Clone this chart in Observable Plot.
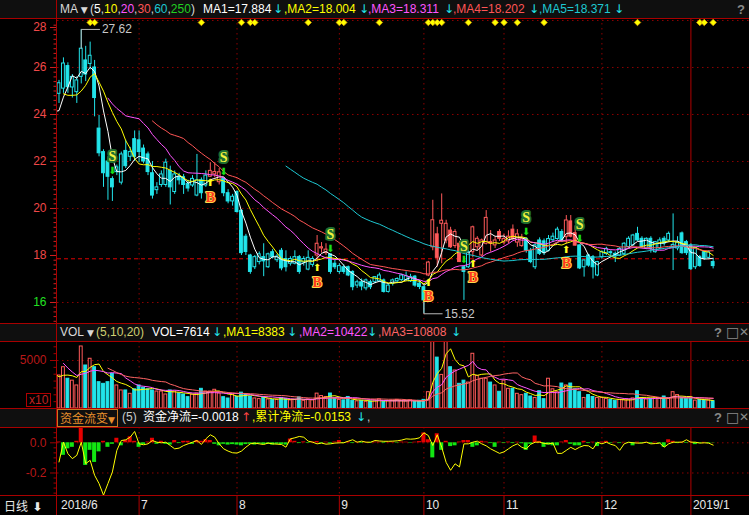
<!DOCTYPE html>
<html><head><meta charset="utf-8">
<script src="https://cdn.jsdelivr.net/npm/d3@7"></script>
<script src="https://cdn.jsdelivr.net/npm/@observablehq/plot@0.6"></script>
<style>
body{margin:0;background:#000;}
#root{position:relative;width:749px;height:515px;overflow:hidden;background:#000;font-family:"Liberation Sans",Arial,"Noto Sans CJK SC",sans-serif;font-size:12px;color:#d8d8d8;}
.t{position:absolute;white-space:nowrap;}
.band{position:absolute;left:0;width:749px;background:#0f0f0f;}
.hl{position:absolute;left:0;width:749px;height:1px;background:#a80000;}
svg{display:block;}
</style></head>
<body><div id="root"></div>
<script>
// ---------- data ----------
const monthLabels = ["2018/6","7","8","9","10","11","12","2019/1"];
const monthStart  = [0,18,40,63,82,100,122,142];

// hidden bars before the first visible one (only feed the moving averages)
const prefixClose  = [25.8,25.6,25.3,25.1,23.3,23.0,23.2,26.0];
const prefixVolume = [80000,70000,60000,52000,35000,30000,32600,33000];

const open = [
24.88,25.10,26.06,25.15,24.95,25.60,26.30,26.15,26.00,23.40,22.40,22.00,21.25,21.55,21.10,22.45,22.20,22.95,
22.90,22.55,22.30,21.50,20.78,21.00,21.00,21.60,20.70,21.35,21.33,21.05,20.98,20.55,21.20,20.98,21.35,21.45,21.12,21.26,20.65,20.30,
20.70,19.90,18.80,18.00,17.50,17.72,17.93,17.50,18.14,17.80,18.20,17.85,17.65,17.65,17.93,17.70,17.40,17.60,18.00,18.30,18.10,18.05,17.65,
17.30,17.50,17.50,17.30,16.72,16.86,16.60,16.86,16.86,16.90,16.94,16.45,16.80,16.90,16.95,16.95,16.90,17.10,16.80,
16.65,17.15,18.35,18.90,19.35,18.64,19.06,18.40,18.50,17.50,17.50,18.14,18.35,18.00,18.50,18.57,18.43,19.00,
18.55,18.60,19.10,18.55,18.40,18.71,18.20,17.50,18.64,18.60,18.20,18.65,18.70,19.00,18.78,19.45,18.95,18.43,17.50,18.00,17.93,17.15,
17.93,18.07,18.14,18.07,18.00,18.07,18.36,18.43,18.92,18.71,18.30,18.71,18.14,18.30,18.71,18.64,18.36,18.30,18.94,18.57,
18.43,17.50,17.93,18.14,17.90,17.72];
const high = [
25.45,26.41,26.20,25.70,25.60,27.62,26.90,27.08,26.30,23.96,22.50,22.20,21.35,21.85,22.40,22.90,22.60,23.30,
23.30,22.70,22.40,22.00,21.10,21.60,22.10,21.80,21.60,21.50,21.45,21.20,21.40,22.30,21.30,21.60,21.95,21.95,21.70,21.30,20.80,20.60,
20.75,19.95,18.90,18.05,18.00,18.15,18.50,18.10,18.25,18.05,18.30,18.20,17.95,18.20,18.00,17.95,18.20,17.95,18.85,18.55,18.50,18.05,17.80,
17.65,17.60,17.55,17.35,16.95,17.00,17.00,16.95,17.10,17.25,17.00,16.80,17.00,17.05,17.20,17.30,17.20,17.15,16.90,
16.70,17.75,20.35,19.20,20.62,19.50,19.20,19.10,18.60,17.55,18.20,19.25,18.80,18.70,19.91,19.06,18.80,19.10,
18.90,19.05,19.30,19.10,18.90,18.75,18.30,18.50,18.75,18.70,18.85,18.95,19.20,19.10,19.70,19.70,19.25,18.45,17.80,18.05,18.00,17.75,
18.20,18.35,18.20,18.15,18.35,18.55,18.80,18.90,19.20,18.80,18.75,18.80,18.60,18.75,18.80,19.00,19.77,18.80,19.00,18.64,
18.50,18.35,18.00,18.20,18.20,17.86];
const low = [
24.47,24.90,24.90,24.70,24.47,25.30,25.40,25.90,23.90,22.20,20.90,20.35,20.30,21.40,21.00,21.70,22.00,22.00,
21.95,21.90,21.40,20.40,20.60,20.90,20.90,20.15,20.60,21.00,20.60,20.70,20.90,20.50,20.40,20.90,21.33,21.30,21.00,20.50,20.20,20.10,
19.80,18.00,18.00,17.20,17.40,17.60,17.10,17.45,17.85,17.70,17.35,17.30,17.55,17.60,17.20,17.55,17.35,17.50,17.72,18.10,18.00,17.20,17.40,
17.20,17.20,17.10,16.50,16.60,16.50,16.50,16.55,16.80,16.85,16.40,16.40,16.70,16.80,16.90,16.90,16.85,16.65,16.55,
15.52,17.10,18.20,17.50,17.65,18.50,18.30,18.30,17.70,16.09,17.45,17.90,18.20,17.95,18.45,18.14,18.30,18.60,
18.45,18.50,18.65,18.35,18.35,18.10,17.65,17.40,18.00,18.00,18.15,18.55,18.65,18.55,18.49,18.75,18.40,17.40,17.08,17.50,17.00,17.10,
17.85,18.00,17.90,17.70,17.95,18.00,18.30,18.40,18.60,18.30,18.25,18.10,18.10,18.25,18.40,18.55,17.36,18.20,18.05,18.00,
17.36,17.40,17.50,17.80,17.85,17.43];
const close = [
25.33,26.17,25.16,25.60,25.45,26.80,25.70,26.50,24.70,22.35,21.50,21.35,20.90,21.75,22.30,21.80,22.40,22.20,
22.40,22.00,21.55,20.55,20.90,21.45,21.95,20.90,21.45,21.20,21.00,20.85,21.26,21.20,20.65,21.40,21.60,21.55,21.54,20.65,20.30,20.50,
19.85,18.10,18.15,17.30,17.93,18.05,17.75,18.05,17.93,17.95,17.45,17.50,17.85,17.93,17.30,17.85,17.90,17.85,18.50,18.35,18.25,17.30,17.50,
17.55,17.30,17.15,16.65,16.86,16.68,16.94,16.65,17.08,17.15,16.45,16.72,16.94,17.00,17.15,17.12,17.08,16.72,16.66,
16.09,17.70,19.50,17.90,19.48,19.35,18.35,19.00,17.72,17.30,18.14,19.20,18.71,18.64,19.60,18.50,18.64,18.71,
18.70,18.80,18.70,18.90,18.70,18.21,17.72,18.43,18.07,18.10,18.70,18.80,19.10,18.60,19.49,18.80,18.42,17.45,17.79,17.57,17.50,17.72,
18.14,18.28,18.10,17.96,18.28,18.50,18.71,18.85,18.64,18.36,18.71,18.28,18.57,18.64,18.50,18.92,18.45,18.55,18.10,18.10,
17.42,18.32,17.55,17.86,18.14,17.55];
const volume = [
34400,43000,31000,29000,24000,64600,44800,51800,43000,27400,25700,27400,36000,24000,18800,18800,15300,20000,
24000,21700,20000,18800,17700,17700,14600,18800,17700,15700,14600,11800,14600,15700,20500,17700,17700,19500,15700,11800,10400,14600,
12000,16500,15000,12500,10500,9800,12000,9500,8800,9000,11000,10000,8500,9000,11500,8000,9500,8500,15500,13000,12000,15600,10500,
9000,8500,12000,8000,7500,8000,7000,7500,8500,9500,7000,7500,8000,9000,8000,7500,8500,7000,8000,
9000,17000,95000,53000,35000,85000,43000,39600,25700,29000,27000,57000,34000,31000,31000,27000,24000,17400,
29000,20500,20500,15300,13900,15300,12500,11000,18000,9700,31000,20000,17000,26000,24000,26000,20000,17000,11000,14000,12000,11000,
11000,10000,9000,8000,9000,9000,9000,10500,18000,11000,9500,10000,10440,11000,12500,10000,17000,14000,11000,10305,
10000,8200,9100,8600,8401,7614];
const fundBar = [
0.005,-0.083,-0.04,-0.03,0.01,0.10,-0.15,-0.05,-0.13,-0.06,0.01,-0.03,-0.01,0.03,-0.02,0.015,0.04,0.01,
-0.03,-0.012,0.005,0.03,-0.01,0.01,-0.01,-0.015,0.015,-0.005,0.01,0.01,-0.01,0.015,0.01,0.02,0.015,-0.01,-0.02,-0.01,-0.015,-0.012,
-0.015,-0.02,-0.012,-0.01,-0.015,-0.008,-0.012,-0.01,-0.015,-0.01,-0.012,-0.015,0.025,0.01,-0.005,0.006,-0.004,0.005,0.008,-0.005,0.004,-0.006,0.005,
0.015,-0.004,0.006,-0.005,0.004,-0.004,0.003,-0.003,0.005,0.004,-0.004,0.003,0.004,-0.003,0.005,0.004,-0.003,0.004,0.008,
0.065,0.02,-0.1,0.06,-0.05,0.01,-0.025,-0.02,0.005,0.015,0.015,-0.03,-0.02,0.01,0.005,-0.005,-0.03,0.004,
-0.004,0.005,-0.005,0.004,-0.006,-0.05,-0.01,0.045,0.01,-0.03,-0.015,-0.02,-0.02,0.005,0.015,-0.01,-0.02,-0.02,0.01,-0.005,0.004,-0.025,
0.005,0.01,-0.004,0.004,-0.005,0.003,-0.003,-0.02,0.004,-0.004,0.003,-0.005,0.004,-0.004,-0.03,0.02,0.01,-0.005,0.004,-0.004,
0.005,-0.012,-0.004,0.003,-0.004,-0.0018];
const fundLine = [
-0.127,0.004,-0.072,-0.105,-0.083,0.004,-0.138,-0.116,-0.215,-0.27,-0.347,-0.27,-0.193,-0.05,0.015,0.02,0.037,0.075,
-0.007,-0.013,-0.007,0.015,0.004,0.0,0.004,-0.018,-0.04,-0.035,-0.018,-0.007,0.004,0.015,-0.011,0.026,0.053,0.037,-0.007,-0.04,-0.055,-0.066,
-0.068,-0.055,-0.029,-0.007,-0.002,-0.007,-0.011,-0.002,-0.007,-0.009,-0.011,-0.029,0.026,0.033,0.042,0.037,0.011,0.004,-0.007,-0.002,-0.009,-0.007,-0.002,
0.0,0.0,0.011,0.02,0.004,0.011,0.004,0.004,0.015,0.012,0.01,0.01,0.011,0.013,0.018,0.026,0.024,0.026,0.033,
0.066,0.048,-0.018,0.053,-0.029,-0.13,-0.182,-0.139,-0.16,-0.007,-0.007,0.004,0.011,-0.007,-0.02,-0.04,-0.055,-0.07,
-0.06,-0.04,-0.02,-0.007,-0.03,-0.04,-0.01,0.004,0.004,-0.004,-0.007,-0.002,-0.07,-0.07,-0.05,-0.03,-0.045,-0.029,-0.018,-0.02,-0.04,0.004,
-0.007,0.004,-0.01,-0.018,-0.05,-0.007,0.004,0.0,-0.002,-0.002,0.004,-0.007,-0.005,-0.002,-0.029,-0.007,0.004,0.004,0.004,0.02,
0.004,0.004,-0.002,0.0,-0.002,-0.0153];

const signalIdx  = [12,34,37,58,61,83,91,93,105,114,117];
const signalType = ["S","B","S","B","S","B","S","B","S","B","S"];
const diamondIdx = [7,8,32,41,43,44,56,63,64,72,83,84,85,86,92,98,100,103,109,130,144,145,147];
const highMarkIdx = 5,  highMarkValue = 27.62;
const lowMarkIdx  = 82, lowMarkValue  = 15.52;
const refPrice = 17.86;

const maPeriods = [5,10,20,30,60];
const volMaPeriods = [5,10,20];
const priceTicks = [16,18,20,22,24,26,28];
const volTicks = [50000];
const fundTicks = [0,-0.2];

// ---------- derived ----------
const RED = "#ff5a5a", CYAN = "#22e4ea";
const GRID = "#8c0000";
const maColors = ["#ffffff","#ffff00","#ff55ff","#ff5555","#1ec8d2"];
const volMaColors = ["#ffff00","#ff55ff","#ff6464"];
const sigMap = new Map(signalIdx.map((d,k)=>[d,signalType[k]]));
let state = CYAN;
const bars = close.map((c,i)=>{
  if (sigMap.has(i)) state = sigMap.get(i)==="B" ? RED : CYAN;
  return {i, open:open[i], high:high[i], low:low[i], close:c, volume:volume[i], fb:fundBar[i], fl:fundLine[i], color:state, up:c>open[i]};
});
const series = prefixClose.map((c,k)=>({i:k-prefixClose.length, close:c, volume:prefixVolume[k]})).concat(bars);
const sig = signalIdx.map((d,k)=>({i:d, type:signalType[k], hi:high[d], lo:low[d]}));
const extremes = [
  {i:highMarkIdx, v:highMarkValue, edge:Math.max(open[highMarkIdx],close[highMarkIdx])},
  {i:lowMarkIdx,  v:lowMarkValue,  edge:Math.min(open[lowMarkIdx],close[lowMarkIdx])}
];
const monthMid = monthStart.filter((d,k)=>k>0 && !monthLabels[k].includes("/"));
const yearStart = monthStart.filter((d,k)=>k>0 && monthLabels[k].includes("/"));

const xScale = {type:"linear", domain:[(57-58.5)/4.45,(749-58.5)/4.45], axis:null};
const base = {width:749, marginLeft:57, marginRight:0, marginTop:0, marginBottom:0,
  style:{background:"none", color:"#ddd", fontFamily:"Liberation Sans, Arial, sans-serif", fontSize:"12px"},
  color:{type:"identity"}};
const vRules = () => [
  Plot.ruleX(monthMid, {x:d=>d, stroke:GRID, strokeDasharray:"1.5,3.5"}),
  Plot.ruleX(yearStart, {x:d=>d, stroke:"#b00000"})
];
const minorPrice = d3.range(76,141).map(k=>k/5).filter(v=>Math.abs(v/2-Math.round(v/2))>1e-6);

// ---------- price panel ----------
const price = Plot.plot({...base, height:305, x:xScale, y:{domain:[15.106,28.085], label:null},
  marks:[
    Plot.ruleY(priceTicks.filter(t=>t!==18), {stroke:GRID, strokeDasharray:"1.5,3.5"}),
    ...vRules(),
    Plot.ruleY([refPrice], {stroke:"#e00000", strokeDasharray:"4,3"}),
    Plot.ruleX(bars, {x:"i", y1:"low", y2:"high", stroke:"color", clip:true}),
    Plot.rect(bars, {x1:d=>d.i-0.32, x2:d=>d.i+0.32, y1:"open", y2:"close", fill:d=>d.up?"#000":d.color, stroke:"color", clip:true}),
    ...maPeriods.map((k,j)=>Plot.lineY(series, Plot.windowY({k, anchor:"end", strict:true}, {x:"i", y:"close", stroke:maColors[j], strokeWidth:1, clip:true}))),
    Plot.link(extremes, {x1:"i", x2:"i", y1:"edge", y2:"v", stroke:"#b8b8b8"}),
    Plot.link(extremes, {x1:"i", x2:d=>d.i+4.2, y1:"v", y2:"v", stroke:"#b8b8b8"}),
    Plot.text(extremes, {x:d=>d.i+4.2, y:"v", text:d=>d.v.toFixed(2), textAnchor:"start", dx:2, fill:"#c8c8c8", fontSize:12}),
    Plot.text(sig.filter(d=>d.type==="S"), {x:"i", y:"hi", text:()=>"⬇", dy:-6, fill:"#18e018", fontSize:10, fontFamily:"DejaVu Sans"}),
    Plot.text(sig.filter(d=>d.type==="S"), {x:"i", y:"hi", text:"type", dy:-20, fill:"#f2f23c", stroke:"#1f6e30", strokeWidth:4, paintOrder:"stroke", fontWeight:"bold", fontSize:14, fontFamily:"Liberation Serif"}),
    Plot.text(sig.filter(d=>d.type==="B"), {x:"i", y:"lo", text:()=>"⬆", dy:6, fill:"#ffff20", fontSize:10, fontFamily:"DejaVu Sans"}),
    Plot.text(sig.filter(d=>d.type==="B"), {x:"i", y:"lo", text:"type", dy:20, fill:"#ff3a1e", stroke:"#ffd84a", strokeWidth:2, paintOrder:"stroke", fontWeight:"bold", fontSize:14, fontFamily:"Liberation Serif"}),
    Plot.dot(diamondIdx, {x:d=>d, frameAnchor:"top", dy:4, symbol:"square", rotate:45, r:2.6, fill:"#ffff00", stroke:"#d8a000", strokeWidth:0.7}),
    Plot.axisY(minorPrice, {tickSize:3.5, tickFormat:()=>"", stroke:"#d02020", label:null}),
    Plot.axisY(priceTicks.filter(t=>t>16&&t<28), {tickSize:7, tickPadding:4, stroke:"#d02020", fill:"#f04848", label:null}),
    Plot.axisY([16], {tickSize:7, tickPadding:4, stroke:"#d02020", fill:"#22e022", label:null}),
    Plot.axisY([28], {tickSize:7, tickPadding:4, dy:7, stroke:"#d02020", fill:"#f04848", label:null})
  ]});

// ---------- volume panel ----------
const volMinor = d3.range(1,10).map(k=>k*50000/7).filter(v=>v<69000 && Math.abs(v-50000)>1);
const vol = Plot.plot({...base, height:67, x:xScale, y:{domain:[0,69792], label:null},
  marks:[
    Plot.ruleY(volTicks, {stroke:GRID, strokeDasharray:"1.5,3.5"}),
    ...vRules(),
    Plot.rect(bars, {x1:d=>d.i-0.32, x2:d=>d.i+0.32, y1:0, y2:"volume", fill:d=>d.up?"#000":CYAN, stroke:d=>d.up?RED:CYAN, clip:true}),
    ...volMaPeriods.map((k,j)=>Plot.lineY(series, Plot.windowY({k, anchor:"end", strict:true}, {x:"i", y:"volume", stroke:volMaColors[j], strokeWidth:1, clip:true}))),
    Plot.axisY(volMinor, {tickSize:3.5, tickFormat:()=>"", stroke:"#a00000", label:null}),
    Plot.axisY(volTicks, {tickSize:7, tickPadding:4, tickFormat:d=>String(d/10), stroke:"#a00000", fill:"#b81818", label:null})
  ]});

// ---------- fund-flow panel ----------
const fundMinor = d3.range(-10,4).map(k=>k*0.2/6).filter(v=>Math.abs(v)>1e-6 && Math.abs(v+0.2)>1e-6);
const fund = Plot.plot({...base, height:68, x:xScale, y:{domain:[-0.349,0.1013], label:null},
  marks:[
    Plot.ruleY(fundTicks, {stroke:GRID, strokeDasharray:"1.5,3.5"}),
    ...vRules(),
    Plot.rect(bars, {x1:d=>d.i-0.45, x2:d=>d.i+0.45, y1:0, y2:"fb", fill:d=>d.fb>=0?"#e60000":"#12e612", clip:true}),
    Plot.line(bars, {x:"i", y:"fl", stroke:"#ffff00", strokeWidth:1, clip:true}),
    Plot.axisY(fundMinor, {tickSize:3.5, tickFormat:()=>"", stroke:"#a00000", label:null}),
    Plot.axisY(fundTicks, {tickSize:7, tickPadding:4, tickFormat:d=>d.toFixed(1), stroke:"#a00000", fill:"#b81818", label:null})
  ]});

// ---------- date row ----------
const dates = Plot.plot({...base, height:20, x:xScale,
  marks:[
    Plot.ruleX(monthStart.slice(1), {x:d=>d, stroke:"#b00000"}),
    Plot.text(monthStart, {x:d=>d, text:(d,k)=>monthLabels[k], textAnchor:"start", dx:2, frameAnchor:"middle", fill:"#e8e8e8", fontSize:12})
  ]});

// ---------- layout ----------
const root = document.getElementById("root");
function band(top,h){const d=document.createElement("div");d.className="band";d.style.top=top+"px";d.style.height=h+"px";root.appendChild(d);}
function put(node,top){const d=document.createElement("div");d.style.cssText=`position:absolute;left:0;top:${top}px;`;d.appendChild(node);root.appendChild(d);}
function txt(x,top,h,s,color,extra=""){const d=document.createElement("div");d.className="t";d.style.cssText+=`left:${x}px;top:${top}px;height:${h}px;line-height:${h}px;color:${color};${extra}`;d.innerHTML=s;root.appendChild(d);}
function hline(y){const d=document.createElement("div");d.className="hl";d.style.top=y+"px";root.appendChild(d);}

band(0,18); band(323,18); band(408,19);
put(price,18); put(vol,341); put(fund,427); put(dates,495);

const ARW = "font-family:'DejaVu Sans';font-size:12px;";
// header 1
txt(60,0,19,"MA<span style='font-size:9px;font-family:DejaVu Sans'> ▼</span>","#d8d8d8");
txt(90,0,19,"(<span style='color:#fff'>5</span>,<span style='color:#ffff00'>10</span>,<span style='color:#ff55ff'>20</span>,<span style='color:#ff5555'>30</span>,<span style='color:#1ec8d2'>60</span>,<span style='color:#22d022'>250</span>)","#d8d8d8");
txt(203,0,19,"MA1=17.884","#ffffff");
txt(273,0,19,"↓","#22e4ea",ARW);
txt(284,0,19,",MA2=18.004","#ffff00");
txt(359,0,19,"↓","#22e4ea",ARW);
txt(368,0,19,",MA3=18.311","#ff55ff");
txt(444,0,19,"↓","#22e4ea",ARW);
txt(453,0,19,",MA4=18.202","#ff5555");
txt(529,0,19,"↓","#22e4ea",ARW);
txt(539,0,19,",MA5=18.371","#1ec8d2");
txt(614,0,19,"↓","#22e4ea",ARW);
txt(737,0,19,"?","#8a8a8a","font-weight:bold;font-size:13px;");
// header 2
txt(60,323,19,"VOL<span style='font-size:9px;font-family:DejaVu Sans'> ▼</span>","#d8d8d8");
txt(96,323,19,"(5,10,20)","#cfcf72");
txt(152,323,19,"VOL=7614","#ffffff");
txt(212,323,19,"↓","#22e4ea",ARW);
txt(223,323,19,",MA1=8383","#ffff00");
txt(287,323,19,"↓","#22e4ea",ARW);
txt(299,323,19,",MA2=10422","#ff55ff");
txt(367,323,19,"↓","#22e4ea",ARW);
txt(378,323,19,",MA3=10808","#ff6464");
txt(451,323,19,"↓","#22e4ea",ARW);
// header 3
txt(57,408,18,"资金流变<span style='font-size:9px;font-family:DejaVu Sans'>▼</span>","#e8902c","border:1px solid #c87820;box-sizing:border-box;padding:0 2px;top:409px;height:18px;line-height:16px;font-family:'Noto Sans CJK SC';");
txt(122,408,19,"(5)","#cccccc");
txt(143,408,19,"资金净流=-0.0018","#ffffff","font-family:'Liberation Sans','Noto Sans CJK SC';");
txt(241,408,19,"↑","#ff4444",ARW);
txt(252,408,19,",累计净流=-0.0153","#ffff00","font-family:'Liberation Sans','Noto Sans CJK SC';");
txt(356,408,19,"↓","#22e4ea",ARW);
txt(367,408,19,",","#cccccc");
for (const top of [323,408]) {
  txt(714,top,19,"?","#8a8a8a","font-weight:bold;font-size:13px;");
  txt(726,top,19,"□","#8a8a8a","font-size:14px;font-family:'DejaVu Sans';");
  txt(739,top,19,"✕","#8a8a8a","font-weight:bold;font-size:12px;font-family:'DejaVu Sans';");
}
// left labels
txt(26,393,14,"x10","#c02020","border:1px solid #b00000;box-sizing:border-box;padding:0 2px;line-height:12px;");
txt(4,496,19,"日线<span style='font-family:DejaVu Sans;font-weight:bold'> ⬇</span>","#e8e8e8","font-family:'Noto Sans CJK SC';");

[18,323,341,408,427,495].forEach(hline);
const v=document.createElement("div");v.style.cssText="position:absolute;left:56px;top:0;width:1px;height:515px;background:#a80000;";root.appendChild(v);
</script>
</body></html>
